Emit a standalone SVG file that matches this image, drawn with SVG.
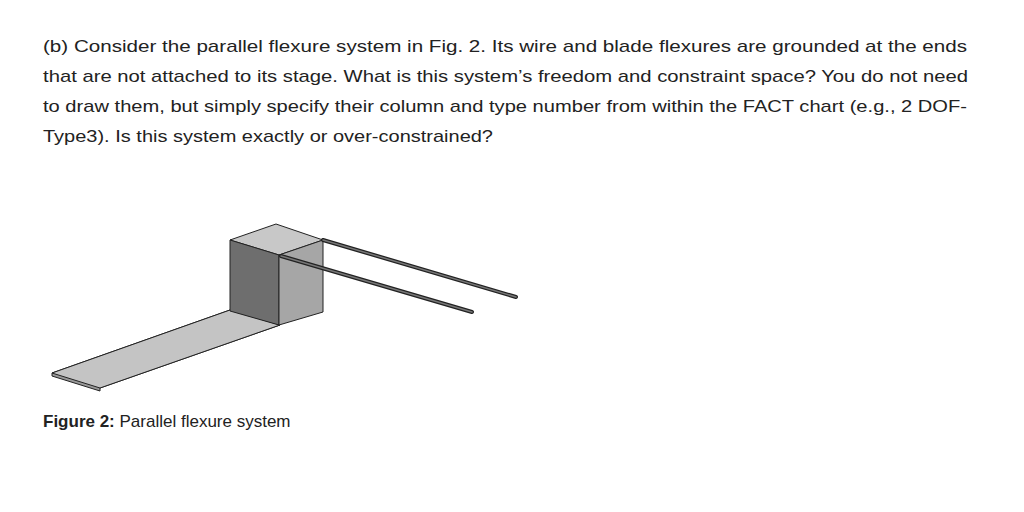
<svg xmlns="http://www.w3.org/2000/svg" width="1024" height="512" viewBox="0 0 1024 512">
<style>
text{font-family:"Liberation Sans",Arial,sans-serif;font-size:17px;fill:#222}
.e{stroke:#222;stroke-width:1;stroke-linejoin:round}
.w{stroke:#222;stroke-width:4;stroke-linecap:round}
.wi{stroke:#777;stroke-width:1.5;stroke-linecap:round}
</style>
<rect width="1024" height="512" fill="#fff"/>
<text x="43" y="52" textLength="924" lengthAdjust="spacingAndGlyphs">(b) Consider the parallel flexure system in Fig. 2.  Its wire and blade flexures are grounded at the ends</text>
<text x="43" y="82" textLength="925" lengthAdjust="spacingAndGlyphs">that are not attached to its stage.  What is this system’s freedom and constraint space?  You do not need</text>
<text x="43" y="112" textLength="924" lengthAdjust="spacingAndGlyphs">to draw them, but simply specify their column and type number from within the FACT chart (e.g., 2 DOF-</text>
<text x="43" y="142" textLength="450" lengthAdjust="spacingAndGlyphs">Type3).  Is this system exactly or over-constrained?</text>
<g id="blade">
<polygon class="e" points="52,373 230,310 280,325 100,388 100,391 52,376" fill="#999"/>
<polygon class="e" points="52,373 230,310 280,325 100,388" fill="#c4c4c4"/>
</g>
<g id="stage">
<polygon class="e" points="230,240 276,224 323,240 279,255" fill="#c8c8c8"/>
<polygon class="e" points="230,240 279,255 279,325 230,311" fill="#6e6e6e"/>
<polygon class="e" points="279,255 323,240 323,312 279,325" fill="#a6a6a6"/>
</g>
<g id="wires">
<line class="w" x1="323" y1="240" x2="516" y2="297"/>
<line class="wi" x1="323" y1="240" x2="516" y2="297"/>
<line class="w" x1="281" y1="256" x2="472" y2="312"/>
<line class="wi" x1="281" y1="256" x2="472" y2="312"/>
</g>
<text x="43" y="427"><tspan font-weight="bold">Figure 2:</tspan> Parallel flexure system</text>
</svg>
